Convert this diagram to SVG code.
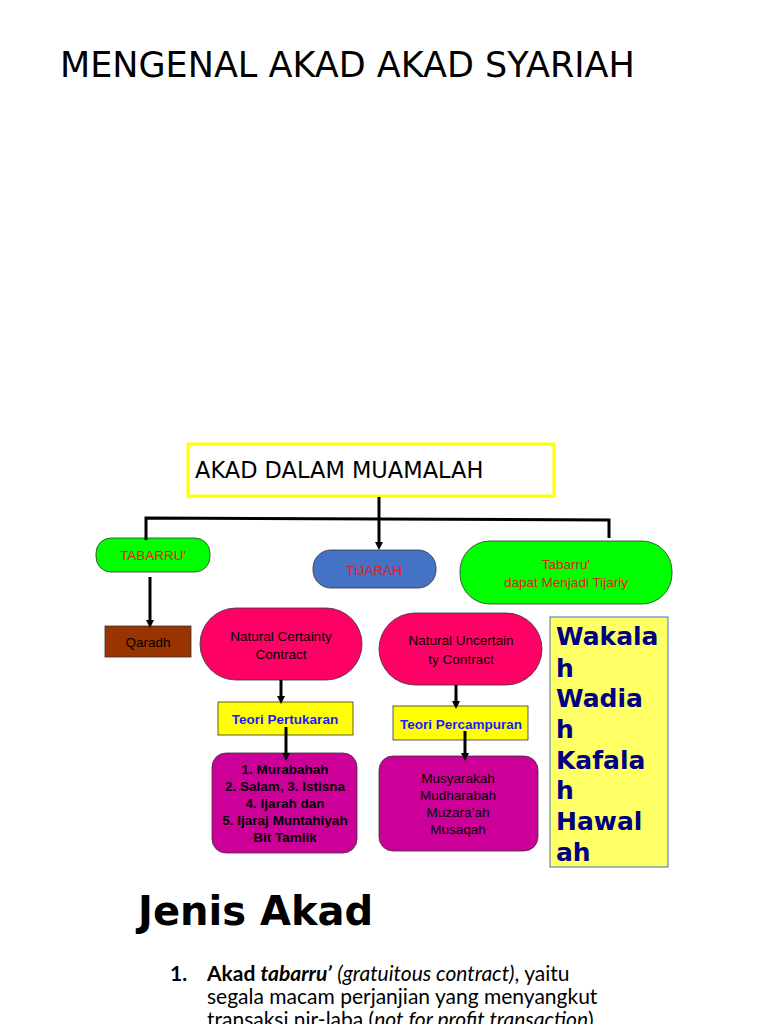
<svg xmlns="http://www.w3.org/2000/svg" width="768" height="1024" viewBox="0 0 768 1024">
<defs>
<marker id="ah" markerWidth="8" markerHeight="8" refX="4" refY="4" orient="auto" markerUnits="userSpaceOnUse" viewBox="0 0 8 8"><path d="M0,0 L8,4 L0,8 z" fill="#000"/></marker>
<style>
.c{stroke:#000;stroke-width:3;fill:none}
.a{stroke:#000;stroke-width:3;fill:none;marker-end:url(#ah)}
.s{font-family:"Liberation Sans",Arial,sans-serif;font-size:13.5px;text-anchor:middle}
.r{fill:#e02020}
.b{font-weight:bold}
.d{font-family:"DejaVu Sans",sans-serif}
</style>
</defs>
<rect width="768" height="1024" fill="#fff"/>
<text x="60" y="77" class="d" font-size="35">MENGENAL AKAD AKAD SYARIAH</text>
<g id="root"><rect x="188" y="444" width="366" height="52" fill="#fff" stroke="#ffff00" stroke-width="3"/><text x="195" y="478" class="d" font-size="22.5">AKAD DALAM MUAMALAH</text></g>
<g id="tabarru"><rect x="96" y="538" width="114" height="34" rx="15" fill="#00ff00" stroke="#333" stroke-width="0.8"/><text x="153" y="560" class="s r">TABARRU'</text></g>
<g id="tijarah"><rect x="313" y="550" width="123" height="38" rx="18" fill="#4472c4" stroke="#333" stroke-width="0.8"/><text x="374" y="575" class="s r">TIJARAH</text></g>
<g id="tabarru2"><rect x="460" y="541" width="212" height="63" rx="30" fill="#00ff00" stroke="#333" stroke-width="0.8"/><text x="566" y="569" class="s r">Tabarru'</text><text x="566" y="587" class="s r">dapat Menjadi Tijariy</text></g>
<g id="qaradh"><rect x="105" y="626" width="86" height="31" fill="#993300" stroke="#333" stroke-width="0.8"/><text x="148" y="647" class="s" font-size="14.5">Qaradh</text></g>
<g id="ncc"><rect x="200" y="608" width="162" height="72" rx="36" fill="#ff0066" stroke="#333" stroke-width="0.8"/><text x="281" y="641" class="s">Natural Certainty</text><text x="281" y="659" class="s">Contract</text></g>
<g id="nuc"><rect x="379" y="613" width="163" height="72" rx="36" fill="#ff0066" stroke="#333" stroke-width="0.8"/><text x="461" y="645" class="s">Natural Uncertain</text><text x="461" y="664" class="s">ty Contract</text></g>
<g id="tp"><rect x="218" y="702" width="135" height="33" fill="#ffff00" stroke="#333" stroke-width="0.8"/><text x="285" y="724" class="s b" fill="#1a1aff">Teori Pertukaran</text></g>
<g id="tc"><rect x="393" y="706" width="135" height="34" fill="#ffff00" stroke="#333" stroke-width="0.8"/><text x="461" y="729" class="s b" fill="#1a1aff">Teori Percampuran</text></g>
<g id="list1"><rect x="212" y="753" width="145" height="100" rx="14" fill="#cc0099" stroke="#333" stroke-width="0.8"/>
<text class="s b"><tspan x="285" y="774">1. Murabahah</tspan><tspan x="285" y="791">2. Salam,  3.  Istisna</tspan><tspan x="285" y="808">4. Ijarah dan</tspan><tspan x="285" y="825">5. Ijaraj Muntahiyah</tspan><tspan x="285" y="842">Bit Tamlik</tspan></text></g>
<g id="list2"><rect x="379" y="756" width="159" height="95" rx="14" fill="#cc0099" stroke="#333" stroke-width="0.8"/>
<text class="s"><tspan x="458" y="783">Musyarakah</tspan><tspan x="458" y="800">Mudharabah</tspan><tspan x="458" y="817">Muzara’ah</tspan><tspan x="458" y="834">Musaqah</tspan></text></g>
<g id="wakalah"><rect x="550" y="617" width="118" height="250" fill="#ffff66" stroke="#4472c4" stroke-width="1"/>
<text class="d b" font-size="25" fill="#000080"><tspan x="556" y="645">Wakala</tspan><tspan x="556" y="677">h</tspan><tspan x="556" y="707">Wadia</tspan><tspan x="556" y="738">h</tspan><tspan x="556" y="769">Kafala</tspan><tspan x="556" y="799">h</tspan><tspan x="556" y="830">Hawal</tspan><tspan x="556" y="861">ah</tspan></text></g>
<g id="connectors">
<line class="c" x1="379" y1="497" x2="379" y2="518"/>
<polyline class="c" points="146,540 146,518 609,520 609,538"/>
<line class="a" x1="379" y1="520" x2="379" y2="546"/>
<line class="a" x1="150" y1="577" x2="150" y2="624"/>
<line class="a" x1="281" y1="680" x2="281" y2="700"/>
<line class="a" x1="456" y1="685" x2="456" y2="705"/>
<line class="a" x1="286" y1="727" x2="286" y2="757"/>
<line class="a" x1="465" y1="731" x2="465" y2="757"/>
</g>
<text x="138" y="925" class="d b" font-size="40">Jenis Akad</text>
<g font-family="Lato,'Open Sans',sans-serif" font-size="21">
<text x="170" y="981" font-weight="bold">1.</text>
<text x="207" y="981"><tspan font-weight="bold">Akad </tspan><tspan font-weight="bold" font-style="italic">tabarru’</tspan> <tspan font-style="italic">(gratuitous contract)</tspan>, yaitu</text>
<text x="207" y="1004">segala macam perjanjian yang menyangkut</text>
<text x="207" y="1027">transaksi nir-laba (<tspan font-style="italic">not for profit transaction</tspan>),</text>
</g>
</svg>
